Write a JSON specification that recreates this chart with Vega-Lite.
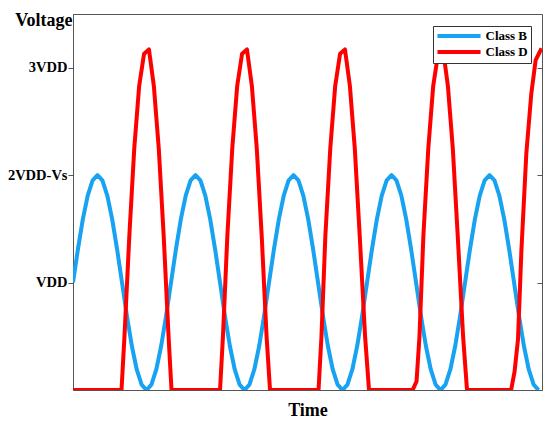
{
  "$schema": "https://vega.github.io/schema/vega-lite/v6.json",
  "width": 469,
  "height": 376,
  "autosize": "none",
  "padding": {"left": 73, "top": 14, "right": 8, "bottom": 31},
  "background": "white",
  "config": {
    "view": {"stroke": "#555", "strokeWidth": 1},
    "font": "Liberation Serif",
    "legend": {"labelFont": "Liberation Serif", "labelFontWeight": "bold"}
  },
  "data": {
    "values": [
      {"s": "Class B", "t": 0, "v": 1}, {"s": "Class B", "t": 0.05, "v": 1.309}, {"s": "Class B", "t": 0.1, "v": 1.588}, {"s": "Class B", "t": 0.15, "v": 1.809}, {"s": "Class B", "t": 0.2, "v": 1.951},
      {"s": "Class B", "t": 0.25, "v": 2}, {"s": "Class B", "t": 0.3, "v": 1.951}, {"s": "Class B", "t": 0.35, "v": 1.809}, {"s": "Class B", "t": 0.4, "v": 1.588}, {"s": "Class B", "t": 0.45, "v": 1.309},
      {"s": "Class B", "t": 0.5, "v": 1}, {"s": "Class B", "t": 0.55, "v": 0.691}, {"s": "Class B", "t": 0.6, "v": 0.412}, {"s": "Class B", "t": 0.65, "v": 0.191}, {"s": "Class B", "t": 0.7, "v": 0.049},
      {"s": "Class B", "t": 0.75, "v": 0}, {"s": "Class B", "t": 0.8, "v": 0.049}, {"s": "Class B", "t": 0.85, "v": 0.191}, {"s": "Class B", "t": 0.9, "v": 0.412}, {"s": "Class B", "t": 0.95, "v": 0.691},
      {"s": "Class B", "t": 1, "v": 1}, {"s": "Class B", "t": 1.05, "v": 1.309}, {"s": "Class B", "t": 1.1, "v": 1.588}, {"s": "Class B", "t": 1.15, "v": 1.809}, {"s": "Class B", "t": 1.2, "v": 1.951},
      {"s": "Class B", "t": 1.25, "v": 2}, {"s": "Class B", "t": 1.3, "v": 1.951}, {"s": "Class B", "t": 1.35, "v": 1.809}, {"s": "Class B", "t": 1.4, "v": 1.588}, {"s": "Class B", "t": 1.45, "v": 1.309},
      {"s": "Class B", "t": 1.5, "v": 1}, {"s": "Class B", "t": 1.55, "v": 0.691}, {"s": "Class B", "t": 1.6, "v": 0.412}, {"s": "Class B", "t": 1.65, "v": 0.191}, {"s": "Class B", "t": 1.7, "v": 0.049},
      {"s": "Class B", "t": 1.75, "v": 0}, {"s": "Class B", "t": 1.8, "v": 0.049}, {"s": "Class B", "t": 1.85, "v": 0.191}, {"s": "Class B", "t": 1.9, "v": 0.412}, {"s": "Class B", "t": 1.95, "v": 0.691},
      {"s": "Class B", "t": 2, "v": 1}, {"s": "Class B", "t": 2.05, "v": 1.309}, {"s": "Class B", "t": 2.1, "v": 1.588}, {"s": "Class B", "t": 2.15, "v": 1.809}, {"s": "Class B", "t": 2.2, "v": 1.951},
      {"s": "Class B", "t": 2.25, "v": 2}, {"s": "Class B", "t": 2.3, "v": 1.951}, {"s": "Class B", "t": 2.35, "v": 1.809}, {"s": "Class B", "t": 2.4, "v": 1.588}, {"s": "Class B", "t": 2.45, "v": 1.309},
      {"s": "Class B", "t": 2.5, "v": 1}, {"s": "Class B", "t": 2.55, "v": 0.691}, {"s": "Class B", "t": 2.6, "v": 0.412}, {"s": "Class B", "t": 2.65, "v": 0.191}, {"s": "Class B", "t": 2.7, "v": 0.049},
      {"s": "Class B", "t": 2.75, "v": 0}, {"s": "Class B", "t": 2.8, "v": 0.049}, {"s": "Class B", "t": 2.85, "v": 0.191}, {"s": "Class B", "t": 2.9, "v": 0.412}, {"s": "Class B", "t": 2.95, "v": 0.691},
      {"s": "Class B", "t": 3, "v": 1}, {"s": "Class B", "t": 3.05, "v": 1.309}, {"s": "Class B", "t": 3.1, "v": 1.588}, {"s": "Class B", "t": 3.15, "v": 1.809}, {"s": "Class B", "t": 3.2, "v": 1.951},
      {"s": "Class B", "t": 3.25, "v": 2}, {"s": "Class B", "t": 3.3, "v": 1.951}, {"s": "Class B", "t": 3.35, "v": 1.809}, {"s": "Class B", "t": 3.4, "v": 1.588}, {"s": "Class B", "t": 3.45, "v": 1.309},
      {"s": "Class B", "t": 3.5, "v": 1}, {"s": "Class B", "t": 3.55, "v": 0.691}, {"s": "Class B", "t": 3.6, "v": 0.412}, {"s": "Class B", "t": 3.65, "v": 0.191}, {"s": "Class B", "t": 3.7, "v": 0.049},
      {"s": "Class B", "t": 3.75, "v": 0}, {"s": "Class B", "t": 3.8, "v": 0.049}, {"s": "Class B", "t": 3.85, "v": 0.191}, {"s": "Class B", "t": 3.9, "v": 0.412}, {"s": "Class B", "t": 3.95, "v": 0.691},
      {"s": "Class B", "t": 4, "v": 1}, {"s": "Class B", "t": 4.05, "v": 1.309}, {"s": "Class B", "t": 4.1, "v": 1.588}, {"s": "Class B", "t": 4.15, "v": 1.809}, {"s": "Class B", "t": 4.2, "v": 1.951},
      {"s": "Class B", "t": 4.25, "v": 2}, {"s": "Class B", "t": 4.3, "v": 1.951}, {"s": "Class B", "t": 4.35, "v": 1.809}, {"s": "Class B", "t": 4.4, "v": 1.588}, {"s": "Class B", "t": 4.45, "v": 1.309},
      {"s": "Class B", "t": 4.5, "v": 1}, {"s": "Class B", "t": 4.55, "v": 0.691}, {"s": "Class B", "t": 4.6, "v": 0.412}, {"s": "Class B", "t": 4.65, "v": 0.191}, {"s": "Class B", "t": 4.7, "v": 0.049},
      {"s": "Class B", "t": 4.75, "v": 0},

      {"s": "Class D", "t": 0, "v": 0},
      {"s": "Class D", "t": 0.495, "v": 0}, {"s": "Class D", "t": 0.525, "v": 0.5}, {"s": "Class D", "t": 0.575, "v": 1.44}, {"s": "Class D", "t": 0.625, "v": 2.25}, {"s": "Class D", "t": 0.675, "v": 2.83}, {"s": "Class D", "t": 0.725, "v": 3.13},
      {"s": "Class D", "t": 0.775, "v": 3.17}, {"s": "Class D", "t": 0.825, "v": 2.83}, {"s": "Class D", "t": 0.875, "v": 2.25}, {"s": "Class D", "t": 0.925, "v": 1.44}, {"s": "Class D", "t": 0.975, "v": 0.5}, {"s": "Class D", "t": 1.005, "v": 0},
      {"s": "Class D", "t": 1.5, "v": 0}, {"s": "Class D", "t": 1.53, "v": 0.5}, {"s": "Class D", "t": 1.575, "v": 1.44}, {"s": "Class D", "t": 1.625, "v": 2.25}, {"s": "Class D", "t": 1.675, "v": 2.83}, {"s": "Class D", "t": 1.725, "v": 3.13},
      {"s": "Class D", "t": 1.775, "v": 3.17}, {"s": "Class D", "t": 1.825, "v": 2.83}, {"s": "Class D", "t": 1.875, "v": 2.25}, {"s": "Class D", "t": 1.925, "v": 1.44}, {"s": "Class D", "t": 1.975, "v": 0.5}, {"s": "Class D", "t": 2.01, "v": 0},
      {"s": "Class D", "t": 2.505, "v": 0}, {"s": "Class D", "t": 2.535, "v": 0.5}, {"s": "Class D", "t": 2.575, "v": 1.44}, {"s": "Class D", "t": 2.625, "v": 2.25}, {"s": "Class D", "t": 2.675, "v": 2.83}, {"s": "Class D", "t": 2.725, "v": 3.13},
      {"s": "Class D", "t": 2.775, "v": 3.17}, {"s": "Class D", "t": 2.825, "v": 2.83}, {"s": "Class D", "t": 2.875, "v": 2.25}, {"s": "Class D", "t": 2.925, "v": 1.44}, {"s": "Class D", "t": 2.98, "v": 0.5}, {"s": "Class D", "t": 3.02, "v": 0},
      {"s": "Class D", "t": 3.465, "v": 0}, {"s": "Class D", "t": 3.505, "v": 0.08}, {"s": "Class D", "t": 3.535, "v": 0.5}, {"s": "Class D", "t": 3.575, "v": 1.44}, {"s": "Class D", "t": 3.625, "v": 2.25}, {"s": "Class D", "t": 3.675, "v": 2.83}, {"s": "Class D", "t": 3.725, "v": 3.13},
      {"s": "Class D", "t": 3.775, "v": 3.17}, {"s": "Class D", "t": 3.825, "v": 2.83}, {"s": "Class D", "t": 3.875, "v": 2.25}, {"s": "Class D", "t": 3.925, "v": 1.44}, {"s": "Class D", "t": 3.98, "v": 0.5}, {"s": "Class D", "t": 4.02, "v": 0},
      {"s": "Class D", "t": 4.47, "v": 0}, {"s": "Class D", "t": 4.505, "v": 0.17}, {"s": "Class D", "t": 4.54, "v": 0.47}, {"s": "Class D", "t": 4.575, "v": 1.3}, {"s": "Class D", "t": 4.625, "v": 2.2}, {"s": "Class D", "t": 4.675, "v": 2.75},
      {"s": "Class D", "t": 4.72, "v": 3.07}, {"s": "Class D", "t": 4.78, "v": 3.18}
    ]
  },
  "layer": [
    {
      "mark": {"type": "line", "strokeWidth": 4, "strokeJoin": "round", "clip": true},
      "encoding": {
        "x": {
          "field": "t", "type": "quantitative",
          "scale": {"domain": [0, 4.785], "nice": false, "zero": false},
          "axis": {
            "title": "Time", "labels": false, "ticks": false, "grid": false,
            "domainColor": "#555",
            "titleFont": "Liberation Serif", "titleFontWeight": "bold", "titleFontSize": 18, "titleColor": "black",
            "titleX": 234.5, "titleY": 25, "titleAlign": "center", "titleBaseline": "alphabetic"
          }
        },
        "y": {
          "field": "v", "type": "quantitative",
          "scale": {"domain": [0, 3.5], "nice": false},
          "axis": {
            "orient": "left", "values": [1, 2, 3], "grid": false,
            "labelExpr": "datum.value == 1 ? 'VDD' : datum.value == 2 ? '2VDD-Vs' : '3VDD'",
            "labelFont": "Liberation Serif", "labelFontWeight": "bold", "labelFontSize": 14.5, "labelColor": "black", "labelPadding": 1,
            "tickSize": 5, "tickColor": "#555", "domainColor": "#555",
            "title": "Voltage", "titleAngle": 0, "titleAlign": "right", "titleBaseline": "alphabetic",
            "titleX": -1, "titleY": 11,
            "titleFont": "Liberation Serif", "titleFontWeight": "bold", "titleFontSize": 18, "titleColor": "black"
          }
        },
        "color": {
          "field": "s", "type": "nominal",
          "scale": {"domain": ["Class B", "Class D"], "range": ["#17A2F2", "#FF0000"]},
          "legend": {
            "title": null, "orient": "none", "legendX": 360, "legendY": 12,
            "fillColor": "white", "strokeColor": "#333", "padding": 2.5, "cornerRadius": 0,
            "symbolType": "M-4,0H4", "symbolSize": 116, "symbolStrokeWidth": 4, "symbolOffset": 16,
            "labelFont": "Liberation Serif", "labelFontWeight": "bold", "labelFontSize": 13, "labelColor": "black",
            "labelOffset": 19, "rowPadding": -1.6
          }
        }
      }
    },
    {
      "mark": {"type": "point", "opacity": 0},
      "encoding": {
        "x": {"field": "t", "type": "quantitative"},
        "y": {
          "field": "v", "type": "quantitative",
          "axis": {
            "orient": "right", "values": [1, 2, 3], "labels": false, "title": null, "grid": false,
            "domain": false, "tickSize": -5, "tickColor": "#555"
          }
        }
      }
    }
  ],
  "resolve": {"axis": {"y": "independent"}}
}
